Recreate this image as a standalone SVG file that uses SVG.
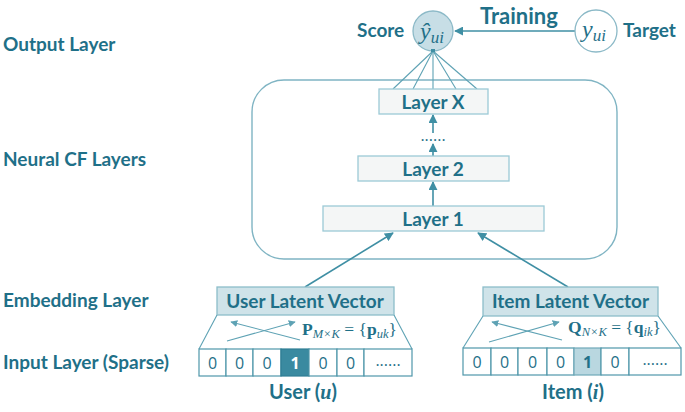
<svg xmlns="http://www.w3.org/2000/svg" width="685" height="412" viewBox="0 0 685 412">
<defs>
<style>
.lbl{font-family:Lato,"Open Sans",sans-serif;font-weight:bold;fill:#1f7088;}
.side{font-size:19px;}
.box{fill:#f4f6f6;stroke:#9ccad6;stroke-width:1.3;}
.lat{fill:#cfe3e9;stroke:#8dbdca;stroke-width:1.3;}
.cell{fill:#ffffff;stroke:#4f97aa;stroke-width:1.2;}
.num{font-family:"Open Sans",Lato,sans-serif;font-size:16px;fill:#1f7088;text-anchor:middle;}
.con{stroke:#3f8fa4;stroke-width:1.6;fill:none;}
.thin{stroke:#5ea2b4;stroke-width:1.1;fill:none;}
.math{font-family:"Liberation Serif","DejaVu Serif",serif;fill:#1f7088;}
</style>
<marker id="ah" viewBox="0 0 10 10" refX="9" refY="5" markerWidth="9" markerHeight="9" markerUnits="userSpaceOnUse" orient="auto">
<path d="M0,0 L10,5 L0,10 z" fill="#3f8fa4"/>
</marker>
<marker id="ahs" viewBox="0 0 10 10" refX="9" refY="5" markerWidth="7" markerHeight="7" markerUnits="userSpaceOnUse" orient="auto">
<path d="M0,0 L10,5 L0,10 z" fill="#5ea2b4"/>
</marker>
</defs>
<rect width="685" height="412" fill="#ffffff"/>

<g id="side-labels">
<text class="lbl side" x="3" y="51">Output Layer</text>
<text class="lbl side" x="3" y="166">Neural CF Layers</text>
<text class="lbl side" x="3" y="307">Embedding Layer</text>
<text class="lbl side" x="3" y="369">Input Layer (Sparse)</text>
</g>

<g id="ncf-container">
<rect x="252" y="80" width="365" height="179" rx="32" fill="none" stroke="#7fb4c3" stroke-width="1.4"/>
</g>

<g id="connectors">
<line class="con" x1="575" y1="31" x2="455" y2="31" marker-end="url(#ah)"/>
<line class="thin" x1="433" y1="51" x2="393" y2="89"/>
<line class="thin" x1="433" y1="51" x2="413" y2="89"/>
<line class="thin" x1="433" y1="51" x2="433" y2="89"/>
<line class="thin" x1="433" y1="51" x2="456" y2="89"/>
<line class="thin" x1="433" y1="51" x2="477" y2="89"/>
<line class="con" x1="433" y1="133" x2="433" y2="115" marker-end="url(#ah)"/>
<line class="con" x1="433" y1="156" x2="433" y2="144" marker-end="url(#ah)"/>
<line class="con" x1="433" y1="206" x2="433" y2="182" marker-end="url(#ah)"/>
<line class="con" x1="305" y1="287" x2="393" y2="233" marker-end="url(#ah)"/>
<line class="con" x1="568" y1="287" x2="478" y2="233" marker-end="url(#ah)"/>
</g>

<g id="score">
<circle cx="433" cy="31" r="20" fill="#c7dee6" stroke="#8bb9c7" stroke-width="1.3"/>
<rect x="431" y="49" width="4" height="3" fill="#3f8fa4"/>
<text class="math" x="420" y="39" font-size="24" font-style="italic">ŷ<tspan font-size="17" dy="4">ui</tspan></text>
<text class="lbl" x="357" y="37" font-size="19">Score</text>
</g>

<g id="training-label">
<text class="lbl" x="480" y="24" font-size="22">Training</text>
</g>

<g id="target">
<circle cx="596" cy="31" r="21" fill="#ffffff" stroke="#8bb9c7" stroke-width="1.3"/>
<text class="math" x="582" y="37" font-size="24" font-style="italic">y<tspan font-size="17" dy="4">ui</tspan></text>
<text class="lbl" x="623" y="37" font-size="19">Target</text>
</g>

<g id="layer-x">
<rect class="box" x="379" y="89" width="109" height="25"/>
<text class="lbl" x="433" y="108.5" font-size="19" text-anchor="middle">Layer X</text>
</g>
<g id="dots">
<text class="num" x="433" y="141" font-size="12">......</text>
</g>
<g id="layer-2">
<rect class="box" x="358" y="156" width="151" height="25"/>
<text class="lbl" x="433" y="175.5" font-size="19" text-anchor="middle">Layer 2</text>
</g>
<g id="layer-1">
<rect class="box" x="323" y="206" width="221" height="25"/>
<text class="lbl" x="433" y="225.5" font-size="19" text-anchor="middle">Layer 1</text>
</g>

<g id="user-latent">
<rect class="lat" x="217" y="287" width="177" height="28"/>
<text class="lbl" x="305" y="307.5" font-size="19" text-anchor="middle">User Latent Vector</text>
<line class="thin" x1="217" y1="315" x2="199" y2="349"/>
<line class="thin" x1="394" y1="315" x2="412" y2="349"/>
<line class="thin" x1="227" y1="341" x2="295" y2="322" marker-end="url(#ahs)"/>
<line class="thin" x1="300" y1="340" x2="231" y2="322" marker-end="url(#ahs)"/>
<text class="math" x="302" y="335" font-size="17.5"><tspan font-weight="bold">P</tspan><tspan font-size="12.5" font-style="italic" dy="3">M×K</tspan><tspan dy="-3"> = {</tspan><tspan font-weight="bold">p</tspan><tspan font-size="12.5" font-style="italic" dy="3">uk</tspan><tspan dy="-3">}</tspan></text>
</g>

<g id="user-input">
<rect class="cell" x="199" y="349" width="27" height="27"/>
<rect class="cell" x="226" y="349" width="27" height="27"/>
<rect class="cell" x="253" y="349" width="28" height="27"/>
<rect x="281" y="349" width="28" height="27" fill="#3a8aa0" stroke="#2f7e94" stroke-width="1.2"/>
<rect class="cell" x="309" y="349" width="28" height="27"/>
<rect class="cell" x="337" y="349" width="27" height="27"/>
<rect class="cell" x="364" y="349" width="48" height="27"/>
<text class="num" x="212.5" y="368.5">0</text>
<text class="num" x="239.5" y="368.5">0</text>
<text class="num" x="267" y="368.5">0</text>
<text class="num" x="295" y="368.5" font-weight="bold" style="fill:#ffffff">1</text>
<text class="num" x="323" y="368.5">0</text>
<text class="num" x="350.5" y="368.5">0</text>
<text class="num" x="388" y="366" font-size="11">......</text>
<text class="lbl" x="303" y="399" font-size="20" text-anchor="middle">User (<tspan class="math" font-style="italic" font-weight="bold">u</tspan>)</text>
</g>

<g id="item-latent">
<rect class="lat" x="483" y="287" width="175" height="29"/>
<text class="lbl" x="570.5" y="307.5" font-size="19" text-anchor="middle">Item Latent Vector</text>
<line class="thin" x1="483" y1="316" x2="463" y2="348"/>
<line class="thin" x1="658" y1="316" x2="681" y2="348"/>
<line class="thin" x1="489" y1="342" x2="559" y2="322" marker-end="url(#ahs)"/>
<line class="thin" x1="562" y1="340" x2="492" y2="322" marker-end="url(#ahs)"/>
<text class="math" x="568" y="333" font-size="17.5"><tspan font-weight="bold">Q</tspan><tspan font-size="12.5" font-style="italic" dy="3">N×K</tspan><tspan dy="-3"> = {</tspan><tspan font-weight="bold">q</tspan><tspan font-size="12.5" font-style="italic" dy="3">ik</tspan><tspan dy="-3">}</tspan></text>
</g>

<g id="item-input">
<rect class="cell" x="463" y="348" width="28" height="27"/>
<rect class="cell" x="491" y="348" width="27" height="27"/>
<rect class="cell" x="518" y="348" width="29" height="27"/>
<rect class="cell" x="547" y="348" width="27" height="27"/>
<rect x="574" y="348" width="27" height="27" fill="#b9d7e0" stroke="#6fa8b8" stroke-width="1.2"/>
<rect class="cell" x="601" y="348" width="28" height="27"/>
<rect class="cell" x="629" y="348" width="52" height="27"/>
<text class="num" x="477" y="367.5">0</text>
<text class="num" x="504.5" y="367.5">0</text>
<text class="num" x="532.5" y="367.5">0</text>
<text class="num" x="560.5" y="367.5">0</text>
<text class="num" x="587.5" y="367.5" font-weight="bold">1</text>
<text class="num" x="615" y="367.5">0</text>
<text class="num" x="655" y="365" font-size="11">......</text>
<text class="lbl" x="573" y="399" font-size="20" text-anchor="middle">Item (<tspan class="math" font-style="italic" font-weight="bold">i</tspan>)</text>
</g>
</svg>
